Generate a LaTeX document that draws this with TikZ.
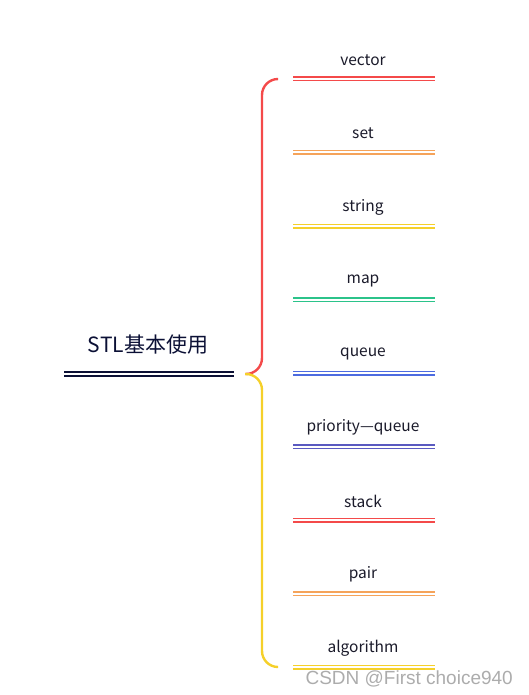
\documentclass[tikz,border=0pt]{standalone}
\usepackage{fontspec}
\setmainfont{Noto Sans CJK SC}
\newfontfamily\markfont{Liberation Sans}
\usepackage{xcolor}
\definecolor{mred}{HTML}{F44A4A}
\definecolor{morange}{HTML}{F5A35A}
\definecolor{myellow}{HTML}{F5D02A}
\definecolor{mgreen}{HTML}{2BC38A}
\definecolor{mblue}{HTML}{4D6BE0}
\definecolor{mindigo}{HTML}{5A5AC0}
\definecolor{mnavy}{HTML}{0B1035}
\definecolor{mtext}{HTML}{1A1A2A}
\tikzset{
  leaf/.style={text=mtext, font=\fontsize{15.5}{18}\selectfont, inner sep=0pt},
  leafline/.style={double=white, double distance=2pt, line width=1.5pt},
  bracepart/.style={line width=2.4pt, rounded corners=16pt}
}

\begin{document}
\begin{tikzpicture}[x=1pt,y=-1pt]
\useasboundingbox (0,0) rectangle (529,695);

% root
\node [text=mnavy, font=\fontsize{21}{24}\selectfont, inner sep=0pt] (root) at (148,345) {STL基本使用};
\coordinate (rootw) at (64,374);
\coordinate (roote) at (234,374);
\draw [mnavy, double=white, double distance=1.8pt, line width=2pt] (rootw) -- (roote);
\coordinate (tip) at (245,374);

% leaves
\foreach \nm/\lbl/\col [count=\i] in {vector/vector/mred, set/set/morange, string/string/myellow,
  map/map/mgreen, queue/queue/mblue, pq/priority—queue/mindigo, stack/stack/mred,
  pair/pair/morange, algo/algorithm/myellow}{
  \node [leaf] (\nm) at (363,{60+73.5*(\i-1)}) {\lbl};
  \coordinate (\nm-w) at (293,{79+73.5*(\i-1)});
  \coordinate (\nm-e) at (435,{79+73.5*(\i-1)});
  \draw [leafline, \col] (\nm-w) -- (\nm-e);
}

% brace
\draw [bracepart, mred] ([xshift=-16pt]vector-w) -| ([xshift=17pt]tip) -- (tip);
\draw [bracepart, myellow] (tip) -- ([xshift=17pt]tip) |- ([xshift=-16pt]algo-w);

\node [text=gray!65, font=\markfont\fontsize{19}{21}\selectfont, inner sep=0pt, anchor=east] (mark) at (513,679) {CSDN @First choice940};
\end{tikzpicture}
\end{document}
